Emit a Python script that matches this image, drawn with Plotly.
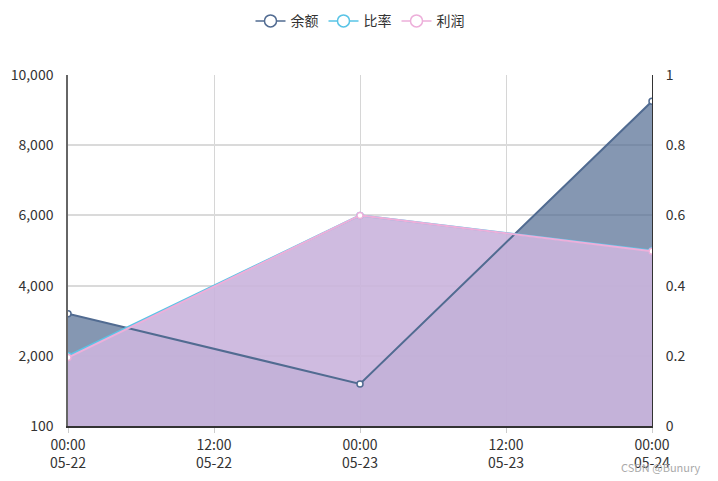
# Graphique en aires : solde, ratio et profit sur deux jours
import plotly.graph_objects as go

# données
horaires = ["2023-05-22 00:00", "2023-05-23 00:00", "2023-05-24 00:00"]
solde = [3200, 1200, 9250]
ratio = [0.2, 0.6, 0.5]
profit = [0.195, 0.6, 0.498]

ticks_x = ["2023-05-22 00:00", "2023-05-22 12:00", "2023-05-23 00:00",
           "2023-05-23 12:00", "2023-05-24 00:00"]
labels_x = ["00:00<br>05-22", "12:00<br>05-22", "00:00<br>05-23",
            "12:00<br>05-23", "00:00<br>05-24"]
ticks_gauche = [0, 2000, 4000, 6000, 8000, 10000]
labels_gauche = ["100", "2,000", "4,000", "6,000", "8,000", "10,000"]
ticks_droite = [0, 0.2, 0.4, 0.6, 0.8, 1]

POLICE = "Microsoft YaHei, Noto Sans CJK SC, sans-serif"

SERIES = [
    # nom, valeurs, couleur, remplissage, axe des aires, axe des lignes
    ("余额", solde, "#516b91", "rgba(81,107,145,0.7)", "y", "y3"),
    ("比率", ratio, "#59c4e6", "rgba(89,196,230,0.7)", "y2", "y4"),
    ("利润", profit, "#edafda", "rgba(237,175,218,0.7)", "y2", "y4"),
]

fig = go.Figure()
# les aires d'abord, toutes sous les lignes (comme echarts)
for nom, y, couleur, remplissage, axe, _ in SERIES:
    fig.add_trace(go.Scatter(x=horaires, y=y, yaxis=axe, mode="lines",
                             line={"width": 0, "color": couleur},
                             fill="tozeroy", fillcolor=remplissage,
                             showlegend=False, hoverinfo="skip"))
# puis les lignes avec marqueurs creux
for nom, y, couleur, remplissage, _, axe in SERIES:
    fig.add_trace(go.Scatter(
        x=horaires, y=y, name=nom, yaxis=axe,
        mode="lines+markers", showlegend=False,
        line={"color": couleur, "width": 2},
        marker={"symbol": "circle", "size": 6, "color": "white",
                "line": {"color": couleur, "width": 1.5}},
    ))
# entrées de légende seules (gros cercle creux comme echarts)
for nom, y, couleur, remplissage, _, axe in SERIES:
    fig.add_trace(go.Scatter(
        x=[None], y=[None], name=nom, yaxis=axe,
        mode="lines+markers",
        line={"color": couleur, "width": 1.5},
        marker={"symbol": "circle", "size": 12, "color": "white",
                "line": {"color": couleur, "width": 1.5}},
    ))

fig.add_annotation(text="CSDN @Bunury", xref="paper", yref="paper",
                   x=1.087, y=-0.118, xanchor="right", yanchor="middle",
                   showarrow=False, font={"size": 11, "color": "#aaaaaa"})

axe_cache = {"overlaying": "y", "visible": False, "showgrid": False,
             "zeroline": False}

fig.update_layout(
    width=718, height=481,
    # la page décale le graphique de 8 px : on compense ici
    margin={"l": 60, "r": 74, "t": 67, "b": 63, "autoexpand": False},
    paper_bgcolor="white", plot_bgcolor="white",
    font={"family": POLICE, "size": 14, "color": "#333333"},
    showlegend=True,
    legend={"orientation": "h", "x": 0.5, "xanchor": "center",
            "y": 1.153, "yref": "paper", "yanchor": "middle",
            "font": {"size": 14, "color": "#333333"},
            "itemwidth": 30, "tracegroupgap": 0},
    xaxis={"type": "date", "range": [ticks_x[0], ticks_x[-1]],
           "tickmode": "array", "tickvals": ticks_x, "ticktext": labels_x,
           "showgrid": True, "gridcolor": "#d6d6d6", "gridwidth": 1,
           "showline": True, "linecolor": "#333333", "linewidth": 1.5,
           "ticks": "outside", "ticklen": 5, "tickcolor": "#cccccc",
           "zeroline": False, "automargin": False},
    yaxis={"range": [0, 10000], "tickmode": "array",
           "tickvals": ticks_gauche, "ticktext": labels_gauche,
           "showgrid": True, "gridcolor": "#dadada", "gridwidth": 2,
           "showline": True, "linecolor": "#666666", "linewidth": 1.5,
           "ticks": "", "ticklabelstandoff": 10, "zeroline": False,
           "automargin": False},
    yaxis2={"range": [0, 1], "overlaying": "y", "side": "right",
            "tickmode": "array", "tickvals": ticks_droite,
            "ticktext": ["0", "0.2", "0.4", "0.6", "0.8", "1"],
            "showgrid": False, "showline": True, "linecolor": "#333333",
            "linewidth": 1, "ticks": "", "ticklabelstandoff": 10,
            "zeroline": False, "automargin": False},
    yaxis3=dict(axe_cache, range=[0, 10000]),
    yaxis4=dict(axe_cache, range=[0, 1]),
)

fig.write_html("out.html")
